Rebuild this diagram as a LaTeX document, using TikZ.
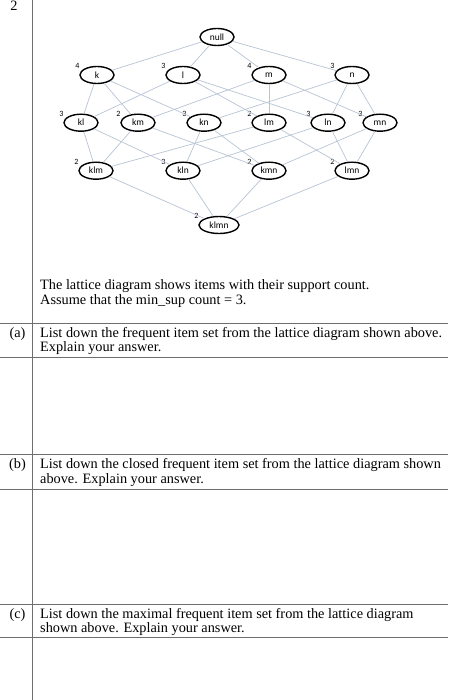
\documentclass[tikz,border=0pt]{standalone}
\usepackage{fontspec}
\setmainfont{Liberation Serif}
\newfontfamily\nodefont{Carlito}
\usetikzlibrary{shapes.geometric,calc}
\definecolor{edgec}{RGB}{185,196,212}
\definecolor{rulec}{RGB}{110,110,110}
\begin{document}
\begin{tikzpicture}[x=1pt,y=-1pt,
  item/.style={ellipse, draw=black, line width=1.4pt, minimum width=34pt, minimum height=17pt, inner sep=1pt, font=\nodefont\fontsize{9.5}{10}\selectfont},
  cnt/.style={font=\nodefont\fontsize{8}{9}\selectfont, inner sep=0pt},
  edge/.style={draw=edgec, line width=0.7pt},
  rulel/.style={draw=rulec, line width=0.8pt},
  txt/.style={anchor=base west, inner sep=0pt, font=\fontsize{14.3}{16}\selectfont},
  lbl/.style={anchor=base, inner sep=0pt, font=\fontsize{14.3}{16}\selectfont}]
\useasboundingbox (0,0) rectangle (448,700);
\fill[white] (0,0) rectangle (448,700);

% lattice nodes
\node[item] (null) at (217,37) {null};
\node[item] (k) at (97,75) {k};
\node[item] (l) at (183,75) {l};
\node[item] (m) at (269,75) {m};
\node[item] (n) at (352,75) {n};
\node[item] (kl) at (81,122.7) {kl};
\node[item] (km) at (138,122.7) {km};
\node[item] (kn) at (204,122.7) {kn};
\node[item] (lm) at (269,122.7) {lm};
\node[item] (ln) at (328,122.7) {ln};
\node[item] (mn) at (380,122.7) {mn};
\node[item] (klm) at (96,170.7) {klm};
\node[item] (kln) at (183,170.7) {kln};
\node[item] (kmn) at (269,170.7) {kmn};
\node[item] (lmn) at (352,170.7) {lmn};
\node[item, minimum width=40pt] (klmn) at (219,225) {klmn};

% support counts
\foreach \nm/\c in {k/4,l/3,m/4,n/3,kl/3,km/2,kn/3,lm/2,ln/3,mn/3,klm/2,kln/3,kmn/2,lmn/2,klmn/2}
  \node[cnt] (c\nm) at ($(\nm.west)+(-2,-9)$) {\c};

% edges
\foreach \a/\b in {null/k,null/l,null/m,null/n,
  k/kl,k/km,k/kn,l/kl,l/lm,l/ln,m/km,m/lm,m/mn,n/kn,n/ln,n/mn,
  kl/klm,kl/kln,km/klm,km/kmn,kn/kln,kn/kmn,lm/klm,lm/lmn,ln/kln,ln/lmn,mn/kmn,mn/lmn,
  klm/klmn,kln/klmn,kmn/klmn,lmn/klmn}
  \draw[edge] (\a) -- (\b);

% table rules
\draw[rulel] (32.7,0) -- (32.7,700);
\draw[rulel] (0,323.3) -- (448,323.3);
\draw[rulel] (0,357.3) -- (448,357.3);
\draw[rulel] (0,454) -- (448,454);
\draw[rulel] (0,489.3) -- (448,489.3);
\draw[rulel] (0,604) -- (448,604);
\draw[rulel] (0,637.7) -- (448,637.7);

% texts
\node[lbl] (qn) at (14,11) {2};
\node[txt] (t1) at (40,289.3) {The lattice diagram shows items with their support count.};
\node[txt] (t2) at (40,304.3) {Assume that the min\_sup count = 3.};
\node[lbl] (la) at (17.5,337.7) {(a)};
\node[txt] (a1) at (40,337.7) {List down the frequent item set from the lattice diagram shown above.};
\node[txt] (a2) at (40,351.7) {Explain your answer.};
\node[lbl] (lb) at (17.5,468.3) {(b)};
\node[txt] (b1) at (40,468.3) {List down the closed frequent item set from the lattice diagram shown};
\node[txt] (b2) at (40,483.3) {above. Explain your answer.};
\node[lbl] (lc) at (17.5,618.3) {(c)};
\node[txt] (c1) at (40,618.3) {List down the maximal frequent item set from the lattice diagram};
\node[txt] (c2) at (40,632.7) {shown above. Explain your answer.};
\end{tikzpicture}
\end{document}
